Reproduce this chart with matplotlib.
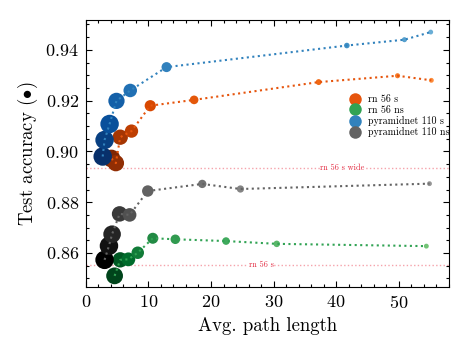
import matplotlib.pyplot as plt
import numpy as np
from matplotlib.lines import Line2D
from matplotlib.ticker import MultipleLocator

plt.rcParams['font.family'] = 'serif'
plt.rcParams['font.serif'] = ['cmr10']
plt.rcParams['mathtext.fontset'] = 'cm'
plt.rcParams['axes.formatter.use_mathtext'] = True

# ------------- data

rn56_s_x  = [4.1, 4.8, 5.5, 7.3, 10.3, 17.3, 37.2, 49.8, 55.2]
rn56_s_y  = [0.8972, 0.8954, 0.9056, 0.9080, 0.9180, 0.9203, 0.9273, 0.9298, 0.9280]

rn56_ns_x = [4.6, 5.5, 6.8, 8.3, 10.7, 14.3, 22.4, 30.5, 54.4]
rn56_ns_y = [0.8510, 0.8573, 0.8575, 0.8601, 0.8658, 0.8654, 0.8647, 0.8636, 0.8627]

pyr_s_x   = [2.7, 3.0, 3.8, 4.9, 7.1, 12.9, 41.7, 50.9, 55.1]
pyr_s_y   = [0.8980, 0.9045, 0.9108, 0.9199, 0.9240, 0.9332, 0.9417, 0.9440, 0.9470]

pyr_ns_x  = [3.0, 3.7, 4.2, 5.4, 7.0, 9.9, 18.6, 24.7, 54.9]
pyr_ns_y  = [0.8573, 0.8628, 0.8674, 0.8754, 0.8750, 0.8844, 0.8872, 0.8852, 0.8873]

labels = ['rn 56 s', 'rn 56 ns', 'pyramidnet 110 s', 'pyramidnet 110 ns']

baseline_names  = ['rn 56 s wide', 'rn 56 s']
baseline_values = [0.8934, 0.8553]
baseline_text_x = [41.0, 28.0]

# ------------- draw

series = [(rn56_s_x, rn56_s_y, 'Oranges', '#e6550d'),
          (rn56_ns_x, rn56_ns_y, 'Greens', '#31a354'),
          (pyr_s_x, pyr_s_y, 'Blues', '#3182bd'),
          (pyr_ns_x, pyr_ns_y, 'Greys', '#636363')]

fig = plt.figure(figsize=(4.74, 3.55), dpi=100)
ax = fig.add_axes([0.181, 0.1915, 0.766, 0.7525])

for name, value, tx in zip(baseline_names, baseline_values, baseline_text_x):
    ax.axhline(value, color='#f5a3ab', linestyle=':', linewidth=1.0, zorder=1)
    ax.text(tx, value, name, color='#e3283f', fontsize=6, ha='center', va='center',
            bbox=dict(facecolor='white', edgecolor='none', pad=0.3), zorder=2)

for i, (xs, ys, cmap_name, line_color) in enumerate(series):
    xs = np.array(xs)
    cmap = plt.get_cmap(cmap_name)
    colors = cmap(np.linspace(1.0, 0.5, len(xs)))
    sizes = np.minimum(177, 672 / xs)
    ax.scatter(xs, ys, s=sizes, c=colors, linewidths=0, zorder=3 + 2 * i)
    ax.plot(xs, ys, linestyle=':', color=line_color, linewidth=1.5, zorder=4 + 2 * i)

handles = [Line2D([], [], linestyle='none', marker='o', markersize=9,
                  markerfacecolor=s[3], markeredgewidth=0) for s in series]
ax.legend(handles, labels, loc='upper left', bbox_to_anchor=(0.729, 0.72),
          frameon=False, fontsize=7.2, handlelength=1.0, handletextpad=0.8,
          labelspacing=0.12, borderpad=0, borderaxespad=0)

ax.set_xlim(0, 58)
ax.set_ylim(0.8466, 0.9518)
ax.xaxis.set_major_locator(MultipleLocator(10))
ax.xaxis.set_minor_locator(MultipleLocator(2))
ax.yaxis.set_major_locator(MultipleLocator(0.02))
ax.yaxis.set_minor_locator(MultipleLocator(0.005))
ax.tick_params(which='both', direction='in', top=True, right=True, labelsize=13)
ax.tick_params(which='major', length=4, width=0.8, pad=5)
ax.tick_params(which='minor', length=2.5, width=0.8)
ax.set_xlabel('Avg. path length', fontsize=13.5)
ax.set_ylabel(r'Test accuracy ($\bullet$)', fontsize=13.5)

fig.savefig('out.png', dpi=100)
